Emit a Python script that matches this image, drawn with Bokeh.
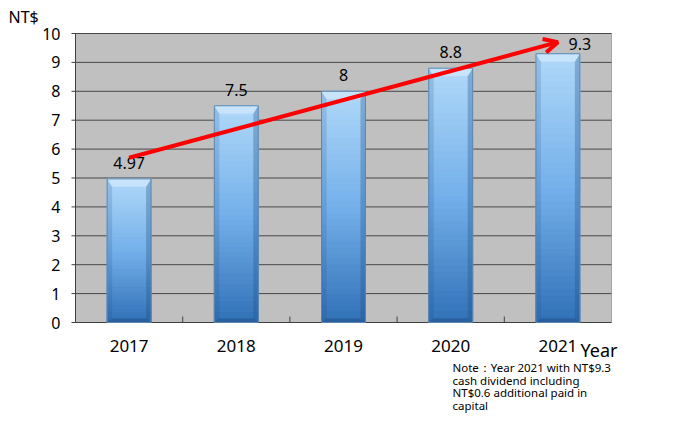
from bokeh.plotting import figure
from bokeh.models import Range1d, Arrow, OpenHead
from bokeh.embed import file_html
from bokeh.resources import INLINE
from bokeh.core.properties import value

# ---- data ----
years = ["2017", "2018", "2019", "2020", "2021"]
dividends = [4.97, 7.5, 8, 8.8, 9.3]
dividend_labels = ["4.97", "7.5", "8", "8.8", "9.3"]
trend_start = 5.7
trend_end = 9.7
y_ticks = [0, 1, 2, 3, 4, 5, 6, 7, 8, 9, 10]
y_tick_labels = ["0", "1", "2", "3", "4", "5", "6", "7", "8", "9", "10"]
y_min, y_max = 0, 10
note_lines = ["Note\uff1aYear 2021 with NT$9.3", "cash dividend including",
              "NT$0.6 additional paid in", "capital"]

# ---- layout (pixels) ----
FONT = "Noto Sans"
W, H = 658, 414
PL, PR, PT, PB = 75, 611, 33, 322          # plot-area box on the canvas
ncat = len(years)
ppu_x = (PR - PL) / ncat
ppu_y = (PB - PT) / (y_max - y_min)

x_lo = -0.5 - PL / ppu_x
x_hi = -0.5 + (W - PL) / ppu_x
y_hi = y_min + PB / ppu_y
y_lo = y_min - (H - PB) / ppu_y

def px_x(px):
    return -0.5 + (px - PL) / ppu_x

def px_y(py):
    return y_min + (PB - py) / ppu_y

p = figure(width=W, height=H, output_backend="svg", toolbar_location=None,
           x_range=Range1d(x_lo, x_hi), y_range=Range1d(y_lo, y_hi),
           min_border=0, min_border_left=0, min_border_right=0,
           min_border_top=0, min_border_bottom=0)
p.axis.visible = False
p.grid.visible = False
p.outline_line_color = None
p.background_fill_color = "white"
p.border_fill_color = "white"

left_edge, right_edge = -0.5, ncat - 0.5

# plot area
p.quad(left=[left_edge], right=[right_edge], bottom=[y_min], top=[y_max],
       fill_color="#c0c0c0", line_color="#a6a6a6", line_width=1)

# horizontal grid lines
gl = [t for t in y_ticks if t > y_min]
p.segment(x0=[left_edge] * len(gl), y0=gl, x1=[right_edge] * len(gl), y1=gl,
          line_color="#474747", line_width=1)

# axes lines
p.segment(x0=[left_edge, left_edge], y0=[y_min, y_min], x1=[right_edge, left_edge],
          y1=[y_min, y_max], line_color="#404040", line_width=1)
p.segment(x0=[left_edge] * len(y_ticks), y0=y_ticks,
          x1=[left_edge - 4 / ppu_x] * len(y_ticks), y1=y_ticks,
          line_color="#404040", line_width=1)
bounds = [i + 0.5 for i in range(ncat - 1)]
p.segment(x0=bounds, y0=[y_min] * len(bounds), x1=bounds,
          y1=[y_min + 6 / ppu_y] * len(bounds), line_color="#404040", line_width=1)

# gradient bars
top_c = (0xb0, 0xd8, 0xf8)
mid_c = (0x74, 0xb0, 0xea)
bot_c = (0x30, 0x70, 0xb6)

def interp(t):
    if t < 0.5:
        a, b, s = top_c, mid_c, t / 0.5
    else:
        a, b, s = mid_c, bot_c, (t - 0.5) / 0.5
    return "#%02x%02x%02x" % tuple(int(round(a[k] + (b[k] - a[k]) * s)) for k in range(3))

bw = 0.41
n = 40
L, R, B, T, C = [], [], [], [], []
for i, v in enumerate(dividends):
    for k in range(n):
        L.append(i - bw / 2); R.append(i + bw / 2)
        B.append(y_min + (v - y_min) * k / n); T.append(y_min + (v - y_min) * (k + 1) / n)
        C.append(interp(1 - (k + 0.5) / n))
p.quad(left=L, right=R, bottom=B, top=T, fill_color=C, line_color=C, line_width=1)

ew = 5 / ppu_x
eh = 8 / ppu_y
xs_left = [i - bw / 2 for i in range(ncat)]
xs_right = [i + bw / 2 for i in range(ncat)]
zeros = [y_min] * ncat
# side bevels
p.patches(xs=[[l, l + ew, l + ew, l] for l in xs_left],
          ys=[[y_min, y_min + eh * 0.5, v - eh, v] for v in dividends],
          fill_color="#1f4f85", fill_alpha=0.18, line_color=None)
p.patches(xs=[[r, r - ew, r - ew, r] for r in xs_right],
          ys=[[y_min, y_min + eh * 0.5, v - eh, v] for v in dividends],
          fill_color="#1f4f85", fill_alpha=0.32, line_color=None)
# top bevel (chamfered face)
p.patches(xs=[[l, r, r - ew, l + ew] for l, r in zip(xs_left, xs_right)],
          ys=[[v, v, v - eh, v - eh] for v in dividends],
          fill_color="#e8f5ff", fill_alpha=0.45, line_color=None)
# bottom bevel
p.patches(xs=[[l, r, r - ew, l + ew] for l, r in zip(xs_left, xs_right)],
          ys=[[y_min, y_min, y_min + eh * 0.5, y_min + eh * 0.5] for _ in dividends],
          fill_color="#1d4a7c", fill_alpha=0.45, line_color=None)
p.quad(left=xs_left, right=xs_right, bottom=zeros, top=dividends,
       fill_color=None, line_color="#5a86b0", line_width=1)

# value labels
lab_y = [min(v + 16 / ppu_y, y_max - 10 / ppu_y) for v in dividends]
lab_x = [float(i) for i in range(ncat)]
lab_x[-1] += 22 / ppu_x  # last label sits right of the arrow head
p.text(x=lab_x, y=lab_y, text=dividend_labels, text_align="center",
       text_baseline="middle", text_font=value(FONT), text_font_size="16px",
       text_color="#000000")

# trend arrow
p.add_layout(Arrow(x_start=0, y_start=trend_start, x_end=ncat - 1, y_end=trend_end,
                   line_color="#ff0000", line_width=4,
                   end=OpenHead(size=14, line_color="#ff0000", line_width=4)))

# value-axis tick labels
p.text(x=[left_edge - 15 / ppu_x] * len(y_ticks), y=y_ticks, text=y_tick_labels,
       text_align="right", text_baseline="middle", text_font=value(FONT),
       text_font_size="16px", text_color="#000000")

# category labels
p.text(x=list(range(ncat)), y=[px_y(345)] * ncat, text=years, text_align="center",
       text_baseline="middle", text_font=value(FONT), text_font_size="17px",
       text_color="#000000")

# unit / axis titles
p.text(x=[px_x(8)], y=[px_y(16)], text=["NT$"], text_align="left",
       text_baseline="middle", text_font=value(FONT), text_font_size="16px",
       text_color="#000000")
p.text(x=[px_x(580)], y=[px_y(349)], text=["Year"], text_align="left",
       text_baseline="middle", text_font=value(FONT), text_font_size="18px",
       text_color="#000000")

# note
p.text(x=[px_x(452)] * len(note_lines),
       y=[px_y(367 + j * 12.6) for j in range(len(note_lines))],
       text=note_lines, text_align="left", text_baseline="middle",
       text_font=value(FONT), text_font_size="11.5px", text_color="#000000")

open("out.html", "w").write(file_html(p, INLINE))
